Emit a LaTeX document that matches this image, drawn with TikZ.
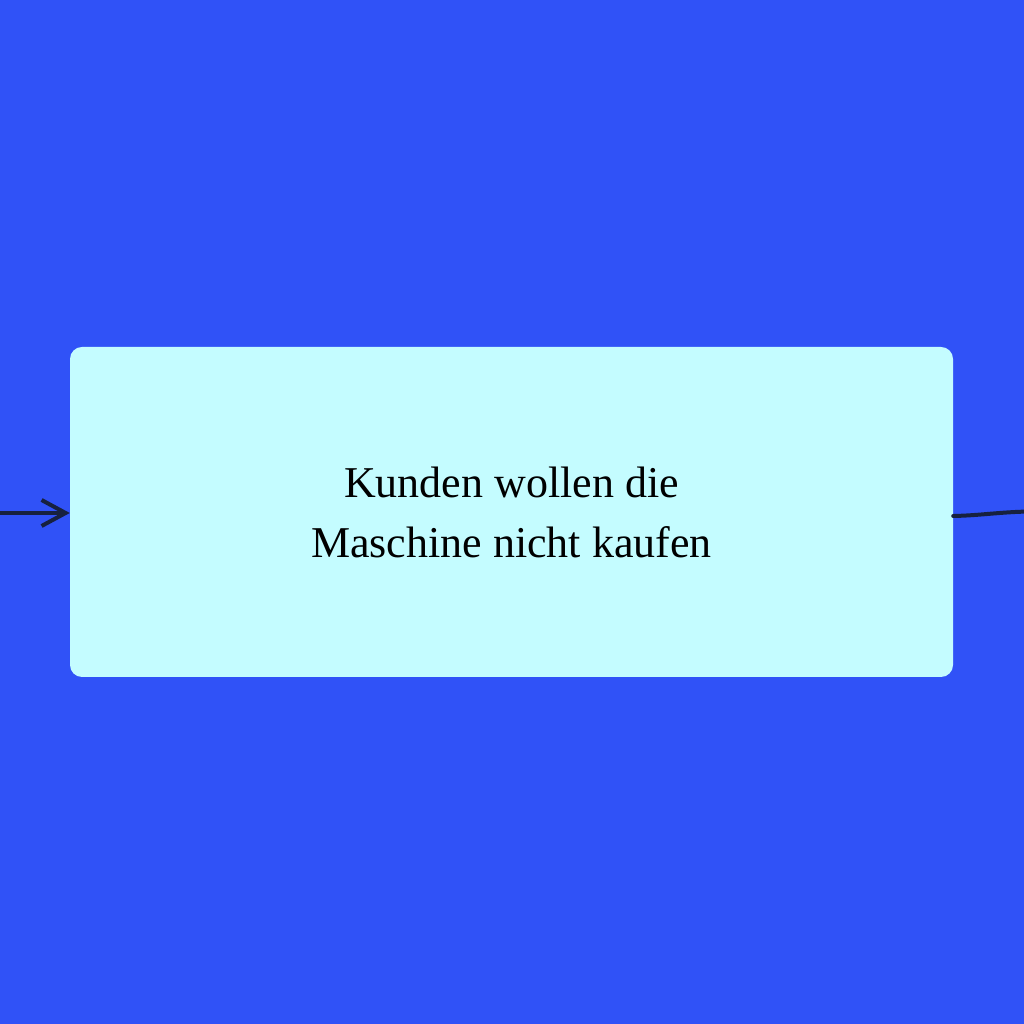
\documentclass[tikz,border=0pt]{standalone}
\usepackage{fontspec}
\setmainfont{Liberation Serif}
\usetikzlibrary{arrows.meta}
\definecolor{bgblue}{HTML}{3052F7}
\definecolor{boxcyan}{HTML}{C4FCFF}
\definecolor{inkdark}{HTML}{17213F}
\tikzset{
  card/.style={fill=boxcyan, draw=none, rounded corners=12pt, minimum width=883pt, minimum height=330pt, inner sep=0pt, align=center, font=\fontsize{44pt}{60pt}\selectfont, text=black},
  link/.style={draw=inkdark, line width=4pt, line cap=round},
}
\begin{document}
\begin{tikzpicture}[x=1pt,y=1pt]
\fill[bgblue] (0,0) rectangle (1024,1024);
\useasboundingbox (0,0) rectangle (1024,1024);
\node[card] (box) at (511.5,512) {Kunden wollen die\\Maschine nicht kaufen};
\coordinate (lin) at (-5,511);
\coordinate (rout) at (1030,512.5);
\draw[link, -{Straight Barb[length=24pt,width=26pt,line width=4pt]}] (lin) -- (box.west |- lin);
\draw[link] (box.east |- 0,508) .. controls (980,508.5) and (1000,512) .. (rout);
\end{tikzpicture}
\end{document}
